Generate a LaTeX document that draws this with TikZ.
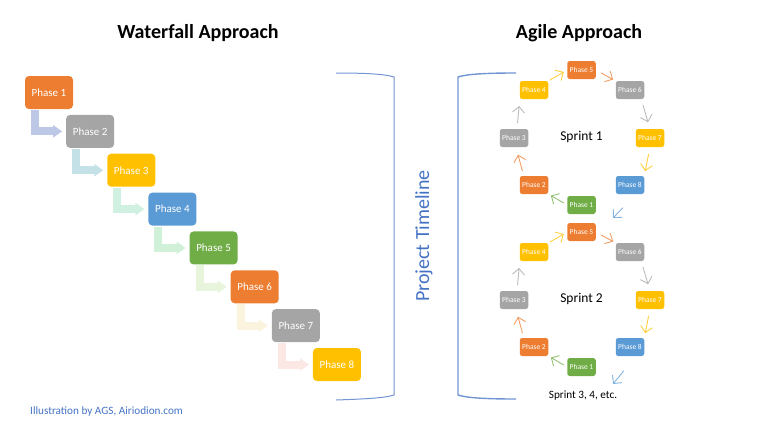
\documentclass[tikz,border=0pt]{standalone}
\usepackage{fontspec}
\setmainfont{Carlito}
\usetikzlibrary{arrows.meta, positioning}
\definecolor{colorOrange}{HTML}{ED7D31}
\definecolor{colorGrey}{HTML}{A5A5A5}
\definecolor{colorYellow}{HTML}{FFC000}
\definecolor{colorBlue}{HTML}{5B9BD5}
\definecolor{colorGreen}{HTML}{70AD47}
\definecolor{colorLine}{HTML}{4472C4}
\tikzset{
  phasebox/.style={rounded corners=4pt, minimum width=48pt, minimum height=33pt, inner sep=0pt, outer sep=0pt, text=white, font=\fontsize{11}{13}\selectfont},
  ringbox/.style={rounded corners=2.5pt, minimum width=28.5pt, minimum height=18pt, inner sep=0pt, outer sep=0pt, text=white, font=\fontsize{7.5}{9}\selectfont},
  stepnext/.style={below right=5.86pt and -6.86pt of #1},
  bentarrow/.style={line width=8pt, -{Triangle[width=12pt,length=9pt]}, shorten <=1pt, shorten >=4pt},
  ringarrow/.style={line width=0.9pt, -{Straight Barb[length=6pt,width=12pt]}, opacity=0.75},
  bracket/.style={colorLine!75!white, line width=1pt},
  heading/.style={font=\fontsize{20}{24}\selectfont\bfseries},
  sprintname/.style={font=\fontsize{13.5}{16}\selectfont}
}

\begin{document}
\begin{tikzpicture}[x=1pt, y=-1pt]
\useasboundingbox (0,0) rectangle (768,434);
\node[heading] (wtitle) at (198,33) {Waterfall Approach};
\node[heading] (atitle) at (579,33) {Agile Approach};

% waterfall
\node[phasebox, fill=colorOrange] (w1) at (49,92.5) {Phase 1};
\node[phasebox, fill=colorGrey, stepnext=w1] (w2) {Phase 2};
\node[phasebox, fill=colorYellow, stepnext=w2] (w3) {Phase 3};
\node[phasebox, fill=colorBlue, stepnext=w3] (w4) {Phase 4};
\node[phasebox, fill=colorGreen, stepnext=w4] (w5) {Phase 5};
\node[phasebox, fill=colorOrange, stepnext=w5] (w6) {Phase 6};
\node[phasebox, fill=colorGrey, stepnext=w6] (w7) {Phase 7};
\node[phasebox, fill=colorYellow, stepnext=w7] (w8) {Phase 8};
\draw[bentarrow, color={rgb,255:red,188;green,200;blue,230}] ([xshift=-14pt]w1.south) |- (w2.west);
\draw[bentarrow, color={rgb,255:red,197;green,225;blue,232}] ([xshift=-14pt]w2.south) |- (w3.west);
\draw[bentarrow, color={rgb,255:red,208;green,240;blue,225}] ([xshift=-14pt]w3.south) |- (w4.west);
\draw[bentarrow, color={rgb,255:red,208;green,240;blue,215}] ([xshift=-14pt]w4.south) |- (w5.west);
\draw[bentarrow, color={rgb,255:red,232;green,245;blue,220}] ([xshift=-14pt]w5.south) |- (w6.west);
\draw[bentarrow, color={rgb,255:red,250;green,243;blue,222}] ([xshift=-14pt]w6.south) |- (w7.west);
\draw[bentarrow, color={rgb,255:red,251;green,232;blue,228}] ([xshift=-14pt]w7.south) |- (w8.west);

% brackets and timeline
\draw[bracket] (336,73) .. controls (365,73) and (385,74) .. (394,77) -- (394,395) .. controls (385,398) and (365,399) .. (336,400);
\draw[bracket, line width=1.4pt] (516,73) .. controls (487,73) and (467,74) .. (458,77) -- (458,395) .. controls (467,398) and (487,399) .. (516,399);
\node[rotate=90, text=colorLine, font=\fontsize{20}{24}\selectfont] (timeline) at (424,236) {Project Timeline};

% sprints
\foreach \s/\dy in {1/0, 2/162} {
\begin{scope}[yshift=-\dy pt]
\node[ringbox, fill=colorGreen] (s\s p1) at (581.5,205) {Phase 1};
\node[ringbox, fill=colorOrange] (s\s p2) at (534,185) {Phase 2};
\node[ringbox, fill=colorGrey] (s\s p3) at (514,138) {Phase 3};
\node[ringbox, fill=colorYellow] (s\s p4) at (534,90) {Phase 4};
\node[ringbox, fill=colorOrange] (s\s p5) at (581.5,70) {Phase 5};
\node[ringbox, fill=colorGrey] (s\s p6) at (630,90) {Phase 6};
\node[ringbox, fill=colorYellow] (s\s p7) at (650,138) {Phase 7};
\node[ringbox, fill=colorBlue] (s\s p8) at (630,185) {Phase 8};
\node[sprintname] (s\s name) at (581.5,136.5) {Sprint \s};
\end{scope}
\draw[ringarrow, colorGreen, shorten <=4pt, shorten >=3pt] (s\s p1.west) -- (s\s p2.south east);
\draw[ringarrow, colorOrange, shorten <=5pt, shorten >=8pt] ([xshift=4pt]s\s p2.north west) -- ([xshift=2pt]s\s p3.south);
\draw[ringarrow, colorGrey, shorten <=6pt, shorten >=7pt] ([xshift=3pt]s\s p3.north) -- (s\s p4.south west);
\draw[ringarrow, colorYellow, shorten <=2pt, shorten >=4pt] (s\s p4.north east) -- (s\s p5.west);
\draw[ringarrow, colorOrange, shorten <=6pt, shorten >=3pt] (s\s p5.east) -- (s\s p6.north west);
\draw[ringarrow, colorGrey, shorten <=6pt, shorten >=7pt] ([xshift=-3pt]s\s p6.south east) -- (s\s p7.north);
\draw[ringarrow, colorYellow, shorten <=7pt, shorten >=5pt] (s\s p7.south) -- (s\s p8.north east);
}
\coordinate (s1next) at (613,218);
\coordinate (s2next) at (613,384);
\draw[ringarrow, colorBlue, shorten <=19pt] ([xshift=6pt]s1p8.south) -- (s1next);
\draw[ringarrow, colorBlue, shorten <=19pt] ([xshift=6pt]s2p8.south) -- (s2next);
\node[font=\fontsize{11.2}{13}\selectfont] (more) at (583,395.5) {Sprint 3, 4, etc.};
\node[anchor=west, inner sep=0pt, text=colorLine, font=\fontsize{11.2}{13}\selectfont] (credit) at (30,412) {Illustration by AGS, Airiodion.com};
\end{tikzpicture}
\end{document}
